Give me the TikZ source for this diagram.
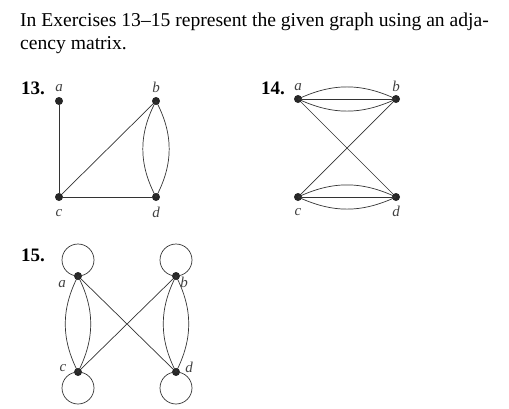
\documentclass[tikz,border=0pt]{standalone}
\usepackage{fontspec}
\setmainfont{Liberation Serif}
\begin{document}
\begin{tikzpicture}[x=1pt,y=-1pt,
  vtx/.style={circle,fill=black!85,inner sep=0pt,minimum size=8pt},
  lbl/.style={font=\fontsize{15}{15}\selectfont\itshape,text=black!75,inner sep=0pt},
  num/.style={font=\fontsize{19}{19}\selectfont\bfseries,inner sep=0pt,anchor=west},
  edge/.style={draw=black!80,line width=0.7pt}]
\useasboundingbox (0,0) rectangle (509,408);
\node[anchor=west,inner sep=0pt,font=\fontsize{19.6}{19.6}\selectfont] (t1) at (20,22) {In Exercises 13--15 represent the given graph using an adja-};
\node[anchor=west,inner sep=0pt,font=\fontsize{19.6}{19.6}\selectfont] (t2) at (20,45) {cency matrix.};
% 13
\node[num] (n13) at (21,88) {13.};
\node[vtx] (a1) at (59,101) {};
\node[vtx] (b1) at (156,101) {};
\node[vtx] (c1) at (59,197) {};
\node[vtx] (d1) at (156,197) {};
\node[lbl] (la1) at (59,88) {a};
\node[lbl] (lb1) at (156,87) {b};
\node[lbl] (lc1) at (59,213) {c};
\node[lbl] (ld1) at (156,212) {d};
\draw[edge] (a1) -- (c1);
\draw[edge] (c1) -- (d1);
\draw[edge] (c1) -- (b1);
\draw[edge] (b1.center) to[bend left=28] (d1.center);
\draw[edge] (b1.center) to[bend right=28] (d1.center);
% 14
\node[num] (n14) at (261,88) {14.};
\node[vtx] (a2) at (298,99) {};
\node[vtx] (b2) at (396,99) {};
\node[vtx] (c2) at (298,197) {};
\node[vtx] (d2) at (396,197) {};
\node[lbl] (la2) at (298,87) {a};
\node[lbl] (lb2) at (396,86) {b};
\node[lbl] (lc2) at (298,212) {c};
\node[lbl] (ld2) at (396,211) {d};
\draw[edge] (a2) -- (b2);
\draw[edge] (a2.center) to[bend left=25] (b2.center);
\draw[edge] (a2.center) to[bend right=25] (b2.center);
\draw[edge] (c2) -- (d2);
\draw[edge] (c2.center) to[bend left=25] (d2.center);
\draw[edge] (c2.center) to[bend right=25] (d2.center);
\draw[edge] (a2) -- (d2);
\draw[edge] (b2) -- (c2);
% 15
\node[num] (n15) at (21,255) {15.};
\node[vtx] (a3) at (78,276) {};
\node[vtx] (b3) at (176,276) {};
\node[vtx] (c3) at (78,372) {};
\node[vtx] (d3) at (176,372) {};
\node[lbl] (la3) at (62,284) {a};
\node[lbl] (lb3) at (184,282) {b};
\node[lbl] (lc3) at (63,368) {c};
\node[lbl] (ld3) at (189,367) {d};
\draw[edge] (a3.center) ++(0,-16) circle (16);
\draw[edge] (b3.center) ++(0,-16) circle (16);
\draw[edge] (c3.center) ++(0,16) circle (16);
\draw[edge] (d3.center) ++(0,16) circle (16);
\draw[edge] (a3.center) to[bend left=27] (c3.center);
\draw[edge] (a3.center) to[bend right=27] (c3.center);
\draw[edge] (b3.center) to[bend left=27] (d3.center);
\draw[edge] (b3.center) to[bend right=27] (d3.center);
\draw[edge] (a3) -- (d3);
\draw[edge] (b3) -- (c3);
\end{tikzpicture}
\end{document}
